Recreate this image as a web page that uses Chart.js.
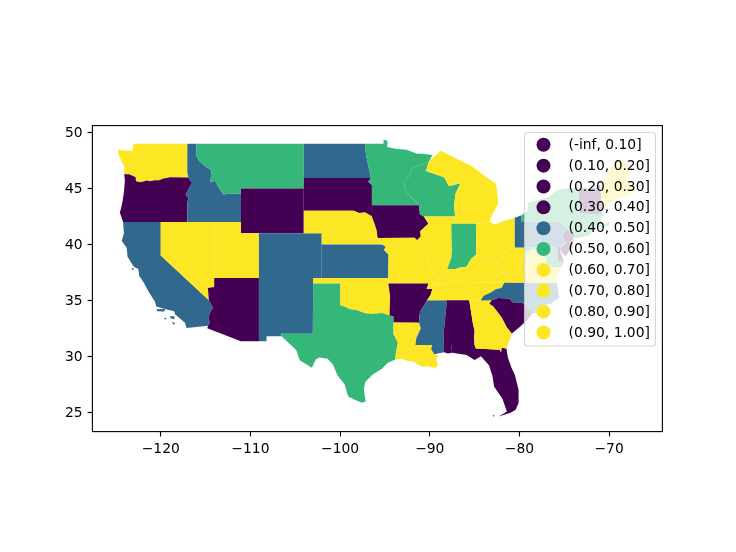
<!DOCTYPE html>
<html>
<head>
<meta charset="utf-8">
<style>
  html, body { margin: 0; padding: 0; background: #fff; }
  canvas { display: block; }
</style>
</head>
<body>
<canvas id="mapa" width="736" height="552"></canvas>
<script src="https://cdn.jsdelivr.net/npm/chart.js@4"></script>
<script>
// Axis ranges and ticks (lon / lat)
const lonRange = [-127.62, -64.06];
const latRange = [23.26, 50.62];
const lonTicks = [-120, -110, -100, -90, -80, -70];
const latTicks = [25, 30, 35, 40, 45, 50];

// Legend bins
const binLabels = ['(-inf, 0.10]', '(0.10, 0.20]', '(0.20, 0.30]', '(0.30, 0.40]', '(0.40, 0.50]',
  '(0.50, 0.60]', '(0.60, 0.70]', '(0.70, 0.80]', '(0.80, 0.90]', '(0.90, 1.00]'];
const binTops = [0.1, 0.2, 0.3, 0.4, 0.5, 0.6, 0.7, 0.8, 0.9, 1.0];
const binColors = ['#440154', '#440154', '#440154', '#440154', '#31688e',
  '#35b779', '#fde725', '#fde725', '#fde725', '#fde725'];

// State value, estimated from its class colour
const stateNames = ['WA', 'OR', 'CA', 'NV', 'ID', 'MT', 'WY', 'UT', 'AZ', 'CO', 'NM', 'ND', 'SD', 'NE', 'KS', 'OK', 'TX',
  'MN', 'IA', 'MO', 'AR', 'LA', 'WI', 'IL', 'MS', 'MI', 'IN', 'KY', 'TN', 'AL', 'FL', 'GA', 'SC', 'NC', 'VA', 'WV', 'OH',
  'PA', 'NY', 'VT', 'NH', 'ME', 'MA', 'RI', 'CT', 'NJ', 'DE', 'MD'];
const stateValues = [0.75, 0.25, 0.45, 0.75, 0.45, 0.55, 0.25, 0.75, 0.25, 0.45, 0.45, 0.45, 0.25, 0.75, 0.45, 0.75, 0.55,
  0.55, 0.25, 0.75, 0.25, 0.75, 0.55, 0.75, 0.45, 0.75, 0.55, 0.75, 0.75, 0.25, 0.25, 0.75, 0.25, 0.45, 0.75, 0.75, 0.75,
  0.45, 0.55, 0.25, 0.25, 0.75, 0.55, 0.55, 0.55, 0.25, 0.25, 0.55];

// Outlines in lon / lat
const WA = [[[-123.1,49],[-117.03,49],[-117.04,46.42],[-116.92,45.99],[-118.98,46],[-119.3,45.93],[-119.6,45.92],[-120.2,45.73],[-120.65,45.74],[-121.2,45.65],[-121.55,45.72],[-122.25,45.55],[-122.76,45.65],[-122.8,46],[-123.2,46.15],[-123.55,46.26],[-124.07,46.27],[-124.05,46.7],[-124.1,47],[-124.35,47.4],[-124.65,47.9],[-124.78,48.45],[-123.2,48.35],[-123.05,48.75]]];
const OR = [[[-124.07,46.27],[-123.55,46.26],[-123.2,46.15],[-122.8,46],[-122.76,45.65],[-122.25,45.55],[-121.55,45.72],[-121.2,45.65],[-120.65,45.74],[-120.2,45.73],[-119.6,45.92],[-119.3,45.93],[-118.98,46],[-116.92,45.99],[-116.5,45.5],[-116.85,45],[-117.05,44.75],[-117.22,44.4],[-116.9,44.15],[-117.03,43.8],[-117.03,42],[-120,42],[-124.2,42],[-124.56,42.84],[-124.4,43.3],[-124.25,43.9],[-124.1,44.7],[-124,45.7]]];
const CA = [[[-124.2,42],[-120,42],[-120,39],[-114.63,35],[-114.15,34.3],[-114.43,34.05],[-114.7,33.4],[-114.52,33.03],[-114.72,32.72],[-117.12,32.53],[-117.3,33],[-118.4,33.75],[-118.5,34.03],[-119.2,34.15],[-120.5,34.45],[-120.65,34.9],[-121.3,35.7],[-121.9,36.6],[-122.4,37.2],[-122.5,37.8],[-123,38],[-123.7,38.9],[-123.8,39.7],[-124.35,40.3],[-124.1,41]],
  [[-120.5,34.2],[-119.5,34.22],[-119.6,34],[-120.4,34.02]], [[-118.95,33.6],[-118.45,33.55],[-118.5,33.3],[-118.9,33.4]], [[-118.75,33.1],[-118.4,32.95],[-118.55,32.8]], [[-119.65,33.45],[-119.35,33.4],[-119.5,33.25]], [[-123.25,37.9],[-123,37.85],[-123.1,37.65]]];
const NV = [[[-120,42],[-114.04,42],[-114.04,37],[-114.04,36.2],[-114.75,36.1],[-114.63,35],[-120,39]]];
const ID = [[[-117.03,49],[-116.05,49],[-116.05,47.98],[-115.72,47.45],[-114.95,46.93],[-114.35,46.65],[-114.45,45.55],[-113.95,45.7],[-113.45,44.95],[-113,44.45],[-112.3,44.55],[-111.5,44.55],[-111.05,44.48],[-111.05,42],[-114.04,42],[-117.03,42],[-117.03,43.8],[-116.9,44.15],[-117.22,44.4],[-117.05,44.75],[-116.85,45],[-116.5,45.5],[-116.92,45.99],[-117.04,46.42]]];
const MT = [[[-116.05,49],[-104.05,49],[-104.05,45.94],[-104.05,45],[-111.05,45],[-111.05,44.48],[-111.5,44.55],[-112.3,44.55],[-113,44.45],[-113.45,44.95],[-113.95,45.7],[-114.45,45.55],[-114.35,46.65],[-114.95,46.93],[-115.72,47.45],[-116.05,47.98]]];
const WY = [[[-111.05,45],[-104.05,45],[-104.05,43],[-104.05,41],[-109.05,41],[-111.05,41],[-111.05,42],[-111.05,44.48]]];
const UT = [[[-114.04,42],[-111.05,42],[-111.05,41],[-109.05,41],[-109.05,37],[-114.04,37]]];
const AZ = [[[-114.04,37],[-109.05,37],[-109.05,31.33],[-111.07,31.33],[-114.81,32.5],[-114.72,32.72],[-114.52,33.03],[-114.7,33.4],[-114.43,34.05],[-114.15,34.3],[-114.63,35],[-114.75,36.1],[-114.04,36.2]]];
const CO = [[[-109.05,41],[-104.05,41],[-102.05,41],[-102.05,40],[-102.05,37],[-103,37],[-109.05,37]]];
const NM = [[[-109.05,37],[-103,37],[-103,36.5],[-103.04,32],[-106.62,32],[-106.53,31.78],[-108.2,31.78],[-108.2,31.33],[-109.05,31.33]]];
const ND = [[[-104.05,49],[-97.23,49],[-97.1,48],[-96.85,47],[-96.56,45.94],[-104.05,45.94]]];
const SD = [[[-104.05,45.94],[-96.56,45.94],[-96.85,45.6],[-96.45,45.3],[-96.45,43.5],[-96.45,42.5],[-97.2,42.85],[-97.9,42.8],[-98.5,43],[-104.05,43],[-104.05,45]]];
const NE = [[[-104.05,43],[-98.5,43],[-97.9,42.8],[-97.2,42.85],[-96.45,42.5],[-96.1,41.7],[-95.9,41.2],[-95.85,40.7],[-95.77,40.58],[-95.3,40],[-102.05,40],[-102.05,41],[-104.05,41]]];
const KS = [[[-102.05,40],[-95.3,40],[-94.9,39.8],[-95.1,39.5],[-94.6,39.1],[-94.62,37],[-102.05,37]]];
const OK = [[[-103,37],[-102.05,37],[-94.62,37],[-94.62,36.5],[-94.43,35.4],[-94.48,33.64],[-95.3,33.87],[-96.4,33.77],[-97.2,33.85],[-98.1,34.1],[-98.9,34.2],[-99.4,34.4],[-100,34.56],[-100,36.5],[-103,36.5]]];
const TX = [[[-103,36.5],[-100,36.5],[-100,34.56],[-99.4,34.4],[-98.9,34.2],[-98.1,34.1],[-97.2,33.85],[-96.4,33.77],[-95.3,33.87],[-94.48,33.64],[-94.04,33.55],[-94.04,33.02],[-94.04,31.99],[-93.55,31.2],[-93.75,30.4],[-93.85,29.7],[-94.7,29.4],[-95.3,28.9],[-96.4,28.35],[-97.2,27.7],[-97.35,27],[-97.15,25.96],[-97.55,25.85],[-98.2,26.05],[-99.1,26.4],[-99.5,27.5],[-100.3,28.3],[-100.8,29.25],[-101.4,29.77],[-102.3,29.88],[-102.7,29.72],[-103.15,28.98],[-104.5,29.65],[-104.9,30.55],[-106.53,31.78],[-106.62,32],[-103.04,32]]];
const MN = [[[-97.23,49],[-95.15,49],[-95.15,49.38],[-94.7,49.25],[-94.75,48.7],[-93.8,48.55],[-92.6,48.46],[-91.4,48.1],[-90.75,48.1],[-89.7,48],[-90.1,47.4],[-92.1,46.75],[-92.3,46.1],[-92.9,45.6],[-92.75,44.8],[-91.2,43.5],[-96.45,43.5],[-96.45,45.3],[-96.85,45.6],[-96.56,45.94],[-96.85,47],[-97.1,48]]];
const IA = [[[-96.45,43.5],[-91.2,43.5],[-91.1,42.7],[-90.65,42.5],[-90.15,41.85],[-91.05,41.2],[-91,40.7],[-91.42,40.38],[-91.7,40.6],[-95.77,40.58],[-95.85,40.7],[-95.9,41.2],[-96.1,41.7],[-96.45,42.5]]];
const MO = [[[-95.77,40.58],[-95.3,40],[-94.9,39.8],[-95.1,39.5],[-94.6,39.1],[-94.62,37],[-94.62,36.5],[-90.15,36.5],[-90.37,36],[-89.7,36],[-89.5,36.5],[-89.1,36.95],[-89.5,37.3],[-89.9,37.9],[-90.2,38.4],[-90.15,38.8],[-90.7,39],[-91.4,39.9],[-91.42,40.38],[-91.7,40.6]]];
const AR = [[[-94.62,36.5],[-90.15,36.5],[-90.37,36],[-89.7,36],[-89.9,35.5],[-90.3,35],[-90.6,34.6],[-91.1,33.9],[-91.2,33],[-94.04,33.02],[-94.04,33.55],[-94.48,33.64],[-94.43,35.4]]];
const LA = [[[-94.04,33.02],[-91.2,33],[-91,32.5],[-91.5,31.6],[-91.6,31],[-89.73,31],[-89.85,30.65],[-89.5,30.18],[-89.05,30.1],[-89.3,29.7],[-89.05,29.2],[-89.4,28.95],[-90.2,29.1],[-90.9,29.05],[-91.8,29.5],[-92.3,29.55],[-93.2,29.78],[-93.85,29.7],[-93.75,30.4],[-93.55,31.2],[-94.04,31.99]]];
const WI = [[[-90.1,47.4],[-92.1,46.75],[-92.3,46.1],[-92.9,45.6],[-92.75,44.8],[-91.2,43.5],[-91.1,42.7],[-90.65,42.5],[-87.18,42.5],[-87.29,43.54],[-87.1,44.59],[-86.55,45.48],[-87.85,45.2],[-88.4,46],[-90.42,46.57]]];
const IL = [[[-90.65,42.5],[-87.18,42.5],[-87.18,41.84],[-87.6,41.84],[-87.53,39.35],[-87.6,38.8],[-88.05,37.8],[-88.45,37.1],[-89.1,36.95],[-89.5,37.3],[-89.9,37.9],[-90.2,38.4],[-90.15,38.8],[-90.7,39],[-91.4,39.9],[-91.42,40.38],[-91,40.7],[-91.05,41.2],[-90.15,41.85]]];
const MS = [[[-90.3,35],[-88.2,35],[-88.1,34.9],[-88.47,31.9],[-88.4,30.35],[-89.5,30.18],[-89.85,30.65],[-89.73,31],[-91.6,31],[-91.5,31.6],[-91,32.5],[-91.2,33],[-91.1,33.9],[-90.6,34.6]]];
const MI = [[[-90.42,46.57],[-90.1,47.4],[-88.77,48.37],[-85.25,46.97],[-83.76,46.07],[-82.6,45.4],[-82.35,43.7],[-83.2,42.35],[-83.3,42.05],[-84.85,41.84],[-87.18,41.84],[-87.18,42.5],[-87.29,43.54],[-87.1,44.59],[-86.55,45.48],[-87.85,45.2],[-88.4,46]]];
const IN = [[[-87.6,41.84],[-84.85,41.84],[-84.82,39.1],[-85.4,38.7],[-85.9,38],[-86.5,37.95],[-87.1,37.8],[-88.05,37.8],[-87.6,38.8],[-87.53,39.35]]];
const KY = [[[-89.5,36.5],[-88.07,36.5],[-88.07,36.68],[-83.68,36.6],[-83.1,36.9],[-82.3,37.3],[-81.97,37.54],[-82.6,38.15],[-82.6,38.42],[-83,38.73],[-83.7,38.65],[-84.2,38.8],[-84.82,39.1],[-85.4,38.7],[-85.9,38],[-86.5,37.95],[-87.1,37.8],[-88.05,37.8],[-88.45,37.1],[-89.1,36.95]]];
const TN = [[[-90.3,35],[-88.2,35],[-85.6,35],[-84.32,34.99],[-84,35.4],[-83.2,35.7],[-82.6,36],[-82,36.1],[-81.68,36.59],[-83.68,36.6],[-88.07,36.68],[-88.07,36.5],[-89.5,36.5],[-89.7,36],[-89.9,35.5]]];
const AL = [[[-88.2,35],[-85.6,35],[-85.18,32.87],[-85,32.3],[-85.05,31.55],[-85,31],[-87.6,31],[-87.5,30.3],[-88,30.25],[-88.4,30.35],[-88.47,31.9],[-88.1,34.9]]];
const FL = [[[-87.6,31],[-85,31],[-84.86,30.7],[-82.2,30.57],[-82.05,30.35],[-82,30.75],[-81.45,30.7],[-81.3,29.9],[-80.9,29],[-80.5,28.3],[-80.1,27],[-80.1,25.8],[-80.45,25.2],[-81,24.95],[-82.3,24.6],[-81.4,25.05],[-81.9,26.2],[-82.83,27.3],[-83,28.2],[-83.4,29.2],[-84.3,30],[-85,29.67],[-85.9,30.1],[-87.5,30.3]],
  [[-83,24.7],[-82.8,24.72],[-82.85,24.58]]];
const GA = [[[-85.6,35],[-84.32,34.99],[-83.11,35],[-83.35,34.7],[-82.9,34.45],[-82,33.5],[-81.4,32.6],[-80.85,32.03],[-81.1,31.5],[-81.45,30.7],[-82,30.75],[-82.05,30.35],[-82.2,30.57],[-84.86,30.7],[-85,31],[-85.05,31.55],[-85,32.3],[-85.18,32.87]]];
const SC = [[[-83.35,34.7],[-83.11,35],[-82.4,35.2],[-81.05,35.15],[-80.8,34.82],[-79.67,34.8],[-78.55,33.85],[-79.2,33.2],[-80,32.6],[-80.85,32.03],[-81.4,32.6],[-82,33.5],[-82.9,34.45]]];
const NC = [[[-84.32,34.99],[-83.11,35],[-82.4,35.2],[-81.05,35.15],[-80.8,34.82],[-79.67,34.8],[-78.55,33.85],[-77.95,33.9],[-77.2,34.6],[-76.5,34.7],[-75.55,35.25],[-75.75,36.2],[-75.87,36.55],[-81.68,36.59],[-82,36.1],[-82.6,36],[-83.2,35.7],[-84,35.4]]];
const VA = [[[-83.68,36.6],[-81.68,36.59],[-75.87,36.55],[-75.95,37],[-75.6,37.5],[-75.25,38.03],[-75.9,37.95],[-76.3,37.9],[-77,38.3],[-77.05,38.85],[-77.5,39.1],[-77.8,39.13],[-78.35,39.4],[-78.85,38.77],[-79.3,38.4],[-79.65,38.57],[-80.3,37.55],[-81.2,37.25],[-81.97,37.54],[-82.3,37.3],[-83.1,36.9]]];
const WV = [[[-81.97,37.54],[-81.2,37.25],[-80.3,37.55],[-79.65,38.57],[-79.3,38.4],[-78.85,38.77],[-78.35,39.4],[-77.8,39.13],[-77.72,39.32],[-78.4,39.6],[-79.48,39.2],[-79.48,39.72],[-80.52,39.72],[-80.52,40.64],[-80.85,39.7],[-81.7,39.2],[-82.2,38.6],[-82.6,38.42],[-82.6,38.15]]];
const OH = [[[-84.82,39.1],[-84.85,41.84],[-83.3,42.05],[-82.83,41.78],[-81.9,42.05],[-80.52,42.37],[-80.52,40.64],[-80.85,39.7],[-81.7,39.2],[-82.2,38.6],[-82.6,38.42],[-83,38.73],[-83.7,38.65],[-84.2,38.8]]];
const PA = [[[-80.52,42.37],[-79.76,42.6],[-79.76,42],[-75.35,42],[-75.05,41.6],[-74.7,41.36],[-75.1,41],[-75.2,40.7],[-74.72,40.15],[-75.42,39.8],[-75.79,39.72],[-79.48,39.72],[-80.52,39.72],[-80.52,40.64]]];
const NY = [[[-79.76,42],[-75.35,42],[-75.05,41.6],[-74.7,41.36],[-73.9,41],[-74,40.6],[-73.6,40.55],[-72.4,40.75],[-71.86,41.07],[-72.6,41],[-73.65,41],[-73.5,42.05],[-73.28,42.75],[-73.25,43.6],[-73.4,44],[-73.35,45],[-73.55,45.1],[-75.8,44.88],[-76.7,44.25],[-77.8,44],[-79.1,43.7],[-79.05,43],[-79.76,42.6]]];
const VT = [[[-73.35,45],[-71.5,45],[-71.6,44.5],[-72.05,44.1],[-72.3,43.5],[-72.46,42.73],[-73.28,42.75],[-73.25,43.6],[-73.4,44]]];
const NH = [[[-71.5,45],[-71.3,45.3],[-71,45.3],[-70.8,43.3],[-70.7,43.07],[-70.8,42.87],[-71.3,42.7],[-72.46,42.73],[-72.3,43.5],[-72.05,44.1],[-71.6,44.5]]];
const ME = [[[-71,45.3],[-70.3,45.9],[-70,46.7],[-69.2,47.45],[-68.3,47.35],[-67.8,47.05],[-67.8,45.7],[-67.4,45.2],[-67,44.85],[-68,44.4],[-69,44],[-70.2,43.6],[-70.7,43.07],[-70.8,43.3]]];
const MA = [[[-73.5,42.05],[-73.28,42.75],[-72.46,42.73],[-71.3,42.7],[-70.8,42.87],[-70.6,42.65],[-71,42.3],[-70.5,41.8],[-70,42.05],[-69.93,41.65],[-70.65,41.55],[-71.12,41.5],[-71.38,42.02],[-71.8,42.02]]];
const RI = [[[-71.8,42.02],[-71.38,42.02],[-71.12,41.5],[-71.86,41.32]]];
const CT = [[[-73.5,42.05],[-71.8,42.02],[-71.86,41.32],[-71.86,41.07],[-72.6,41],[-73.65,41]]];
const NJ = [[[-74.7,41.36],[-73.9,41],[-74,40.6],[-74,40.2],[-74.1,39.7],[-74.9,38.93],[-75.4,39.4],[-75.5,39.65],[-74.72,40.15],[-75.2,40.7],[-75.1,41]]];
const DE = [[[-75.79,39.72],[-75.42,39.8],[-75.5,39.5],[-75.05,38.45],[-75.7,38.46]]];
const MD = [[[-79.48,39.72],[-75.79,39.72],[-75.7,38.46],[-75.05,38.45],[-75.25,38.03],[-75.9,37.95],[-76.3,37.9],[-77,38.3],[-77.05,38.85],[-77.5,39.1],[-77.72,39.32],[-78.4,39.6],[-79.48,39.2]]];

const stateShapes = {WA, OR, CA, NV, ID, MT, WY, UT, AZ, CO, NM, ND, SD, NE, KS, OK, TX, MN, IA, MO, AR, LA, WI, IL, MS, MI,
  IN, KY, TN, AL, FL, GA, SC, NC, VA, WV, OH, PA, NY, VT, NH, ME, MA, RI, CT, NJ, DE, MD};

function corDoValor(valor) {
  const bin = binTops.findIndex(topo => valor <= topo);
  return binColors[bin];
}

// One dataset per ring, the library places the points
const datasets = [];
stateNames.forEach((nome, i) => {
  stateShapes[nome].forEach(anel => {
    datasets.push({
      label: nome,
      data: anel.map(p => ({ x: p[0], y: p[1] })),
      backgroundColor: corDoValor(stateValues[i]),
      pointRadius: 0
    });
  });
});

// Fills each ring through the points that the scales placed
const preencheEstados = {
  id: 'preencheEstados',
  beforeDatasetsDraw(chart) {
    const ctx = chart.ctx;
    ctx.save();
    chart.data.datasets.forEach((ds, i) => {
      const pontos = chart.getDatasetMeta(i).data;
      ctx.beginPath();
      pontos.forEach((p, j) => {
        if (j === 0) ctx.moveTo(p.x, p.y);
        else ctx.lineTo(p.x, p.y);
      });
      ctx.closePath();
      ctx.fillStyle = ds.backgroundColor;
      ctx.fill();
    });
    ctx.restore();
  }
};

const fonte = { family: '"DejaVu Sans"', size: 13.89 };

// Axes frame and the legend box over the map
const molduraLegenda = {
  id: 'molduraLegenda',
  afterDraw(chart) {
    const { ctx, chartArea: a } = chart;
    ctx.save();
    ctx.strokeStyle = '#000';
    ctx.lineWidth = 1.11;
    ctx.strokeRect(a.left, a.top, a.right - a.left, a.bottom - a.top);

    ctx.beginPath();
    ctx.roundRect(524.5, 132.5, 131, 213.5, 3);
    ctx.fillStyle = 'rgba(255,255,255,0.8)';
    ctx.fill();
    ctx.strokeStyle = 'rgba(204,204,204,0.8)';
    ctx.stroke();

    ctx.font = '13.89px "DejaVu Sans"';
    ctx.textBaseline = 'middle';
    binLabels.forEach((texto, i) => {
      const y = 144.8 + i * 20.85;
      ctx.beginPath();
      ctx.arc(543.5, y, 7, 0, Math.PI * 2);
      ctx.fillStyle = binColors[i];
      ctx.fill();
      ctx.fillStyle = '#000';
      ctx.fillText(texto, 568.5, y + 0.5);
    });
    ctx.restore();
  }
};

const eixo = (min, max, marcas, tamanho, deslocaRotulo) => ({
  type: 'linear',
  min,
  max,
  afterBuildTicks: s => { s.ticks = marcas.map(v => ({ value: v })); },
  afterFit: tamanho,
  grid: { drawOnChartArea: false, drawTicks: true, tickLength: 4.86, tickWidth: 1.11, tickColor: '#000' },
  border: { display: false },
  ticks: {
    color: '#000',
    font: fonte,
    padding: 4.86,
    maxRotation: 0,
    autoSkip: false,
    labelOffset: deslocaRotulo,
    callback: v => String(v).replace('-', '\u2212')
  }
});

new Chart(document.getElementById('mapa'), {
  type: 'scatter',
  data: { datasets },
  plugins: [preencheEstados, molduraLegenda],
  options: {
    responsive: false,
    animation: false,
    layout: { padding: { left: 0, top: 125.6, right: 73.6, bottom: 0 } },
    plugins: { legend: { display: false }, tooltip: { enabled: false } },
    scales: {
      x: eixo(lonRange[0], lonRange[1], lonTicks, s => { s.height = 120.4; }, 0),
      y: eixo(latRange[0], latRange[1], latTicks, s => { s.width = 92.4; }, 1)
    }
  }
});
</script>
</body>
</html>
